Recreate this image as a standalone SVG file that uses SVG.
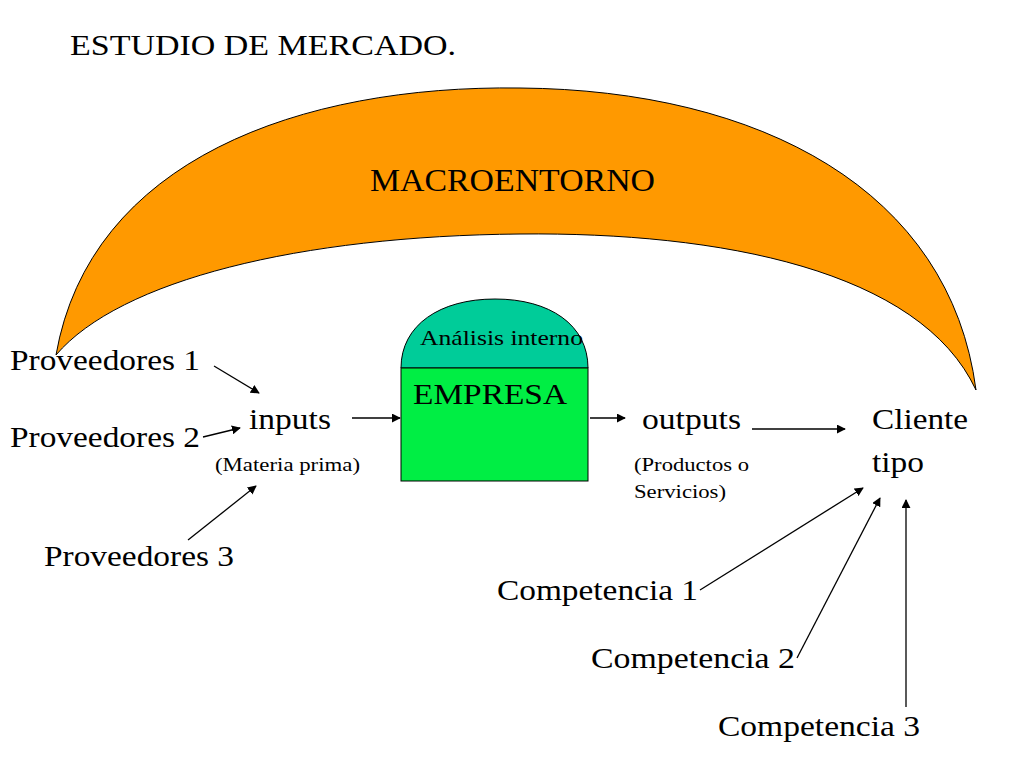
<svg xmlns="http://www.w3.org/2000/svg" width="1024" height="768" viewBox="0 0 1024 768">
<style>
text{font-family:"Liberation Serif",serif;fill:#000}
.l{stroke:#000;stroke-width:1.3;fill:none;marker-end:url(#a)}
</style>
<defs><marker id="a" viewBox="0 0 10 10" refX="9" refY="5" markerWidth="9" markerHeight="9" markerUnits="userSpaceOnUse" orient="auto"><path d="M0,0L10,5L0,10z" fill="#000"/></marker></defs>
<rect width="1024" height="768" fill="#fff"/>
<text x="70" y="55" font-size="29" textLength="386" lengthAdjust="spacingAndGlyphs">ESTUDIO DE MERCADO.</text>
<g id="macro">
<path d="M56,355 C90,160 300,85 520,88 C760,90 950,190 976,390 C920,270 720,232 520,234 C300,236 120,280 56,355 Z" fill="#ff9900" stroke="#000" stroke-width="1"/>
<text x="370" y="191" font-size="31" textLength="285" lengthAdjust="spacingAndGlyphs">MACROENTORNO</text>
</g>
<g id="empresa">
<path d="M401,368 C401,325 440,299 495,299 C550,299 588,325 588,368 Z" fill="#00cc99" stroke="#000"/>
<rect x="401" y="368" width="187" height="113" fill="#00ee44" stroke="#000"/>
<text x="420" y="345" font-size="21" textLength="163" lengthAdjust="spacingAndGlyphs">Análisis interno</text>
<text x="413" y="404" font-size="29" textLength="154" lengthAdjust="spacingAndGlyphs">EMPRESA</text>
</g>
<g id="labels" font-size="29">
<text x="10" y="370" textLength="190" lengthAdjust="spacingAndGlyphs">Proveedores 1</text>
<text x="10" y="447" textLength="190" lengthAdjust="spacingAndGlyphs">Proveedores 2</text>
<text x="44" y="566" textLength="190" lengthAdjust="spacingAndGlyphs">Proveedores 3</text>
<text x="249" y="429" textLength="82" lengthAdjust="spacingAndGlyphs">inputs</text>
<text x="215" y="471" font-size="18" textLength="145" lengthAdjust="spacingAndGlyphs">(Materia prima)</text>
<text x="642" y="429" textLength="99" lengthAdjust="spacingAndGlyphs">outputs</text>
<text x="634" y="471" font-size="18" textLength="115" lengthAdjust="spacingAndGlyphs">(Productos o</text>
<text x="634" y="498" font-size="18" textLength="92" lengthAdjust="spacingAndGlyphs">Servicios)</text>
<text x="872" y="429" textLength="96" lengthAdjust="spacingAndGlyphs">Cliente</text>
<text x="872" y="472" textLength="52" lengthAdjust="spacingAndGlyphs">tipo</text>
<text x="497" y="600" textLength="201" lengthAdjust="spacingAndGlyphs">Competencia 1</text>
<text x="591" y="668" textLength="204" lengthAdjust="spacingAndGlyphs">Competencia 2</text>
<text x="718" y="736" textLength="202" lengthAdjust="spacingAndGlyphs">Competencia 3</text>
</g>
<g id="connectors">
<line class="l" x1="214" y1="366" x2="259" y2="393"/>
<line class="l" x1="203" y1="437" x2="240" y2="428"/>
<line class="l" x1="188" y1="540" x2="256" y2="486"/>
<line class="l" x1="352" y1="418" x2="400" y2="418"/>
<line class="l" x1="590" y1="418" x2="625" y2="418"/>
<line class="l" x1="752" y1="429" x2="845" y2="429"/>
<line class="l" x1="700" y1="590" x2="863" y2="488"/>
<line class="l" x1="797" y1="658" x2="880" y2="498"/>
<line class="l" x1="906" y1="707" x2="906" y2="500"/>
</g>
</svg>
